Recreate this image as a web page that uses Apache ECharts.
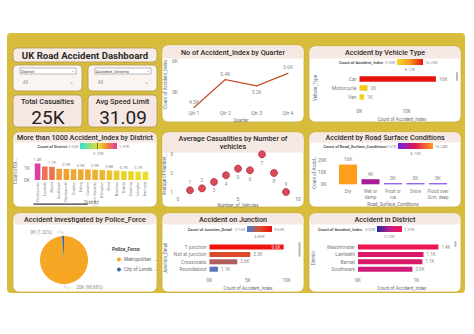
<!DOCTYPE html>
<html>
<head>
<meta charset="utf-8">
<script src="https://cdn.jsdelivr.net/npm/echarts@6/dist/echarts.min.js"></script>
<style>
  html, body { margin: 0; padding: 0; background: #ffffff; }
  #main { width: 474px; height: 334px; }
</style>
</head>
<body>
<div id="main"></div>
<script>
// ---- data ----
const totalCasualties = 25000;
const avgSpeedLimit = 31.09;

const quarters = ['Qtr 1', 'Qtr 2', 'Qtr 3', 'Qtr 4'];
const accidentsByQuarter = [4500, 5400, 5200, 5600];
const quarterTicks = [5000, 6000];

const vehicleTypes = ['Car', 'Motorcycle', 'Van'];
const accidentsByVehicle = [16250, 1700, 950];
const vehicleScale = [0, 16250];

const districts = ['Westminster', 'Lambeth', 'Barnet', 'Southwark', 'Wandsworth', 'Croydon', 'Ealing', 'Camden',
  'Tower Hamlets', 'Hillingdon', 'Brent', 'Newham', 'Enfield', 'Hackney', 'Islington', 'Haringey'];
const accidentsByDistrict = [1374, 1120, 1100, 930, 920, 900, 890, 880, 860, 840, 800, 780, 740, 730, 700, 690];
const districtScale = [20, 1374];

const vehicleCounts = [1, 2, 3, 4, 5, 6, 7, 8, 9];
const avgCasualties = [1.09, 1.19, 1.53, 1.88, 2.23, 2.14, 2.98, 2.0, 1.0];

const surfaceConditions = ['Dry', 'Wet or damp', 'Frost or ice', 'Snow', 'Flood over 3cm. deep'];
const accidentsBySurface = [16240, 4200, 150, 60, 10];
const surfaceScale = [10, 16240];

const policeForces = ['Metropolitan Police', 'City of London'];
const accidentsByForce = [20430, 273];

const junctionDetails = ['T junction', 'Not at junction', 'Crossroads', 'Roundabout'];
const accidentsByJunction = [9630, 5300, 3600, 1100];
const junctionScale = [150, 9630];

const topDistricts = ['Westminster', 'Lambeth', 'Barnet', 'Southwark'];
const accidentsInTopDistricts = [1374, 1120, 1100, 930];
const topDistrictScale = [20, 1374];

// ---- styling helpers ----
const F = 'Roboto, "Noto Sans", sans-serif';
const GRAY = '#8c8c8c';
const DARK = '#2b2b2b';

function hexToRgb(h) { h = h.replace('#', ''); return [0, 2, 4].map(i => parseInt(h.substr(i, 2), 16)); }
function ramp(stops, t) {
  t = Math.max(0, Math.min(1, t));
  for (let i = 1; i < stops.length; i++) {
    if (t <= stops[i][0]) {
      const a = stops[i - 1], b = stops[i];
      const k = (t - a[0]) / (b[0] - a[0] || 1);
      const ca = hexToRgb(a[1]), cb = hexToRgb(b[1]);
      const c = ca.map((v, j) => Math.round(v + (cb[j] - v) * k));
      return 'rgb(' + c.join(',') + ')';
    }
  }
  return stops[stops.length - 1][1];
}
function colorFor(stops, scale, v) { return ramp(stops, (v - scale[0]) / (scale[1] - scale[0])); }

const vehicleStops = [[0, '#F2D71C'], [0.5, '#F39A1E'], [1, '#E8120D']];
const districtStops = [[0, '#2FE0DA'], [0.5, '#E9E02A'], [0.75, '#F2803C'], [1, '#DE3E9E']];
const surfaceStops = [[0, '#6A22E8'], [0.5, '#E3174E'], [1, '#FF9E1B']];
const junctionStops = [[0, '#3A7DD6'], [0.5, '#D9502E'], [1, '#F0120C']];
const topDistrictStops = [[0, '#1D2A9B'], [0.5, '#C21E8C'], [1, '#EC1652']];

const kFmt = v => (v % 1000 === 0 ? (v / 1000) + 'K' : '');
const kRound = v => Math.round(v / 1000) + 'K';
const k1 = v => (v / 1000).toFixed(1) + 'K';
const k2 = v => (v / 1000).toFixed(2) + 'K';

function wrap(s, n) {
  const words = s.split(' '); const lines = []; let cur = '';
  words.forEach(w => {
    if (cur && (cur + ' ' + w).length > n) { lines.push(cur); cur = w; }
    else cur = cur ? cur + ' ' + w : w;
  });
  if (cur) lines.push(cur);
  return lines.join('\n');
}

const tickLabel = (extra) => Object.assign({ fontSize: 5, color: '#7d7d7d', fontFamily: F,
  hideOverlap: false, showMinLabel: true, showMaxLabel: true }, extra || {});
const axisName = { fontSize: 4.5, color: '#6b6b6b', fontFamily: F };
const noLines = { axisLine: { show: false }, axisTick: { show: false }, splitLine: { show: false }, nameMoveOverlap: false };

// ---- panels and static texts ----
const graphics = [];
graphics.push({ type: 'rect', z: -10, shape: { x: 7, y: 33, width: 458, height: 260, r: 4 }, style: { fill: '#D8BC3C' } });

function panel(x, y, w, h, band, title) {
  graphics.push({ type: 'rect', z: -5, shape: { x, y, width: w, height: h, r: 6 }, style: { fill: '#ffffff', stroke: '#C9AE4A', lineWidth: 0.8 } });
  graphics.push({ type: 'rect', z: -4, shape: { x: x + 0.5, y: y + 0.5, width: w - 1, height: band, r: [6, 6, 0, 0] }, style: { fill: '#F6E8E2' } });
  graphics.push({ type: 'text', z: 5, style: { text: title, x: x + w / 2, y: y + band / 2 + 0.5, align: 'center', verticalAlign: 'middle', fontSize: 7.2, fontWeight: 500, fill: DARK, fontFamily: F, lineHeight: 8 } });
}
function text(t, x, y, o) {
  graphics.push({ type: 'text', z: 5, style: Object.assign({ text: t, x, y, align: 'center', verticalAlign: 'middle', fontSize: 5, fill: GRAY, fontFamily: F }, o || {}) });
}
function gradLegend(name, nameRight, y, rectX, rectW, stops, scale) {
  text(name, nameRight, y, { align: 'right', fontSize: 4, fontWeight: 'bold', fill: '#555' });
  text(k2(scale[0]), rectX - 1.5, y, { align: 'right', fontSize: 4 });
  graphics.push({ type: 'rect', z: 4, shape: { x: rectX, y: y - 3, width: rectW, height: 6 },
    style: { fill: new echarts.graphic.LinearGradient(0, 0, 1, 0, stops.map(s => ({ offset: s[0], color: s[1] }))) } });
  text(k2(scale[1]), rectX + rectW + 2, y, { align: 'left', fontSize: 4 });
  text(k2((scale[0] + scale[1]) / 2), rectX + rectW / 2, y + 7, { fontSize: 4 });
}

// header block
function box(x, y, w, h, fill) {
  graphics.push({ type: 'rect', z: -5, shape: { x, y, width: w, height: h, r: 4 }, style: { fill, stroke: '#B09650', lineWidth: 0.8 } });
}
box(13, 48, 144, 14, '#F7EBE6');
text('UK Road Accident Dashboard', 85, 55.5, { fontSize: 9.6, fontWeight: 'bold', fill: DARK });

function slicer(x, label) {
  box(x, 65, 69, 26, '#FBF5F2');
  graphics.push({ type: 'rect', z: 4, shape: { x: x + 7, y: 68, width: 56, height: 6 }, style: { fill: '#ffffff', stroke: '#7a7a7a', lineWidth: 0.5 } });
  text(label, x + 8, 71, { align: 'left', fontSize: 4.2, fill: '#444' });
  text('⌄', x + 60, 70, { fontSize: 5, fill: '#888' });
  text('All', x + 10, 82, { align: 'left', fontSize: 4.5, fill: '#888' });
  text('⌄', x + 58, 81, { fontSize: 6, fill: '#999' });
}
slicer(13, 'District');
slicer(88, 'Accident_Severity');

box(13, 95, 69, 32, '#F7E7E2');
box(88, 95, 69, 32, '#F7E7E2');
text('Total Casualties', 47.5, 101.5, { fontSize: 7.4, fontWeight: 500, fill: DARK });
text(Math.round(totalCasualties / 1000) + 'K', 48, 117.5, { fontSize: 19, fill: '#222' });
text('Avg Speed Limit', 122.5, 101.5, { fontSize: 7.4, fontWeight: 500, fill: DARK });
text(avgSpeedLimit.toFixed(2), 123, 117.5, { fontSize: 19, fill: '#222' });

// chart panels
panel(162, 45, 142, 77, 13, 'No of Accident_Index by Quarter');
panel(309, 46, 152, 76, 12, 'Accident by Vehicle Type');
panel(13, 132, 144, 75, 10, 'More than 1000 Accident_Index by District');
panel(162, 132, 142, 75, 20, 'Average Casualities by Number of\nvehicles');
panel(309, 132, 152, 75, 10, 'Accident by Road Surface Conditions');
panel(13, 213, 144, 79, 11, 'Accident investigated by Police_Force');
panel(162, 213, 142, 79, 11, 'Accident on Junction');
panel(309, 213, 152, 79, 11, 'Accident in District');

gradLegend('Count of Accident_Index', 383, 62, 397, 26, vehicleStops, vehicleScale);
gradLegend('Count of District', 67, 146, 80, 37, districtStops, districtScale);
graphics.push({ type: 'rect', z: 5, shape: { x: 97, y: 142.5, width: 0.6, height: 7 }, style: { fill: '#333' } });
gradLegend('Count of Road_Surface_Conditions', 386, 146, 398, 35, surfaceStops, surfaceScale);
gradLegend('Count of Junction_Detail', 232, 229, 247, 25, junctionStops, junctionScale);
gradLegend('Count of Accident_Index', 362, 229, 377, 25, topDistrictStops, topDistrictScale);

// scroll bars
graphics.push({ type: 'rect', z: 5, shape: { x: 456, y: 72, width: 2, height: 9, r: 1 }, style: { fill: '#b8b8b8' } });
graphics.push({ type: 'rect', z: 5, shape: { x: 33, y: 203.3, width: 55, height: 1.6, r: 0.8 }, style: { fill: '#707070' } });
graphics.push({ type: 'rect', z: 5, shape: { x: 298.5, y: 242, width: 2, height: 15, r: 1 }, style: { fill: '#b8b8b8' } });
graphics.push({ type: 'rect', z: 5, shape: { x: 454.5, y: 241, width: 2, height: 6, r: 1 }, style: { fill: '#b8b8b8' } });

// pie legend title
text('Police_Force', 112, 249, { align: 'left', fontSize: 4.8, fontWeight: 'bold', fill: '#444' });

// ---- chart ----
const chart = echarts.init(document.getElementById('main'), null, { renderer: 'svg' });

const quarterLabelPos = ['top', 'top', 'bottom', 'top'];
const scatterLabelPos = ['top', 'top', 'bottom', 'bottom', 'bottom', 'bottom', 'bottom', 'bottom', 'top'];

function grid(l, t, w, h) { return { left: l, top: t, width: w, height: h, containLabel: false, outerBoundsMode: 'none' }; }

const option = {
  animation: false,
  textStyle: { fontFamily: F },
  graphic: { elements: graphics },
  grid: [
    grid(194, 61, 94, 46.5),          // 0 quarter
    grid(359.5, 74.5, 84.6, 27),      // 1 vehicle
    grid(34, 162, 115, 18),           // 2 district
    grid(178, 154, 120, 38),          // 3 scatter
    grid(336.75, 160, 112.5, 24.3),   // 4 surface
    grid(209.5, 243.3, 77, 29.6),     // 5 junction
    grid(358, 243.3, 87.75, 29.6)     // 6 top districts
  ],
  xAxis: [
    Object.assign({ gridIndex: 0, type: 'category', boundaryGap: false, data: quarters,
      axisLabel: tickLabel({ margin: 3 }), name: 'Quarter', nameLocation: 'middle', nameGap: 10, nameTextStyle: axisName }, noLines),
    Object.assign({ gridIndex: 1, type: 'value', min: 0, max: 18000, interval: 10000,
      axisLabel: tickLabel({ margin: 7, formatter: v => (v % 10000 === 0 ? kFmt(v) : '') }),
      name: 'Count of Accident_Index', nameLocation: 'middle', nameGap: 15.5, nameTextStyle: axisName }, noLines),
    Object.assign({ gridIndex: 2, type: 'category', data: districts,
      axisLabel: tickLabel({ rotate: 90, fontSize: 3.6, margin: 2, interval: 0 }),
      name: 'District', nameLocation: 'middle', nameGap: 20, nameTextStyle: axisName }, noLines),
    Object.assign({ gridIndex: 3, type: 'value', min: 0, max: 10, interval: 5,
      axisLabel: tickLabel({ margin: 4 }), name: 'Number_of_Vehicles', nameLocation: 'middle', nameGap: 11, nameTextStyle: axisName }, noLines),
    Object.assign({ gridIndex: 4, type: 'category', data: surfaceConditions,
      axisLabel: tickLabel({ fontSize: 4.5, lineHeight: 5.2, margin: 5, interval: 0, formatter: v => wrap(v, 10) }),
      name: 'Road_Surface_Conditions', nameLocation: 'middle', nameGap: 18, nameTextStyle: axisName }, noLines),
    Object.assign({ gridIndex: 5, type: 'value', min: 0, max: 10000, interval: 5000,
      axisLabel: tickLabel({ margin: 5, formatter: v => (v / 1000) + 'K' }),
      name: 'Count of Accident_Index', nameLocation: 'middle', nameGap: 13, nameTextStyle: axisName }, noLines),
    Object.assign({ gridIndex: 6, type: 'value', min: 0, max: 1500, interval: 1000,
      axisLabel: tickLabel({ margin: 5, formatter: kFmt }),
      name: 'Count of Accident_Index', nameLocation: 'middle', nameGap: 13, nameTextStyle: axisName }, noLines)
  ],
  yAxis: [
    Object.assign({ gridIndex: 0, type: 'value', min: 4500, max: 6000, interval: 500,
      axisLabel: tickLabel({ margin: 16, formatter: v => (quarterTicks.includes(v) ? (v / 1000) + 'K' : '') }),
      name: 'Count of Accident_Index', nameLocation: 'middle', nameRotate: 90, nameGap: 26, nameTextStyle: axisName }, noLines),
    Object.assign({ gridIndex: 1, type: 'category', inverse: true, data: vehicleTypes,
      axisLabel: tickLabel({ margin: 3 }),
      name: 'Vehicle_Type', nameLocation: 'middle', nameRotate: 90, nameGap: 42, nameTextStyle: axisName }, noLines),
    Object.assign({ gridIndex: 2, type: 'value', min: 0, max: 1500, interval: 1000,
      axisLabel: tickLabel({ margin: 4, formatter: kFmt }),
      name: 'Count of Di...', nameLocation: 'middle', nameRotate: 90, nameGap: 16, nameTextStyle: axisName }, noLines),
    Object.assign({ gridIndex: 3, type: 'value', min: 1, max: 3, interval: 1,
      axisLabel: tickLabel({ margin: 5 }),
      name: 'Average of Number_...', nameLocation: 'middle', nameRotate: 90, nameGap: 11, nameTextStyle: axisName }, noLines),
    Object.assign({ gridIndex: 4, type: 'value', min: 0, max: 20000, interval: 10000,
      axisLabel: tickLabel({ margin: 10, formatter: kFmt }),
      name: 'Count of Accid...', nameLocation: 'middle', nameRotate: 90, nameGap: 20, nameTextStyle: axisName }, noLines),
    Object.assign({ gridIndex: 5, type: 'category', inverse: true, data: junctionDetails,
      axisLabel: tickLabel({ margin: 3 }),
      name: 'Junction_Detail', nameLocation: 'middle', nameRotate: 90, nameGap: 42, nameTextStyle: axisName }, noLines),
    Object.assign({ gridIndex: 6, type: 'category', inverse: true, data: topDistricts,
      axisLabel: tickLabel({ margin: 3 }),
      name: 'District', nameLocation: 'middle', nameRotate: 90, nameGap: 42, nameTextStyle: axisName }, noLines)
  ],
  legend: {
    data: policeForces, orient: 'vertical', left: 112, top: 252, itemWidth: 4, itemHeight: 4, itemGap: 5,
    icon: 'circle', textStyle: { fontSize: 4.8, color: '#666', fontFamily: F, padding: [0, 0, 0, -2] },
    formatter: n => (n.length > 13 ? n.slice(0, 13) + ' ...' : n)
  },
  series: [
    {
      type: 'line', xAxisIndex: 0, yAxisIndex: 0, symbol: 'circle', symbolSize: 1, showSymbol: true,
      itemStyle: { color: '#C4532F' },
      lineStyle: { color: '#C4532F', width: 1.3 },
      data: accidentsByQuarter.map((v, i) => ({ value: v, label: { position: quarterLabelPos[i] } })),
      label: { show: true, formatter: p => k1(p.value), fontSize: 5, color: GRAY, distance: 3 }
    },
    {
      type: 'bar', xAxisIndex: 1, yAxisIndex: 1, barWidth: 5.5,
      data: accidentsByVehicle.map(v => ({ value: v, itemStyle: { color: colorFor(vehicleStops, vehicleScale, v) } })),
      label: { show: true, position: 'right', formatter: p => kRound(p.value), fontSize: 5, color: GRAY, distance: 3 }
    },
    {
      type: 'bar', xAxisIndex: 2, yAxisIndex: 2, barWidth: 5.6,
      data: accidentsByDistrict.map(v => ({ value: v, itemStyle: { color: colorFor(districtStops, districtScale, v) } })),
      label: { show: true, position: 'top', formatter: p => (p.dataIndex % 2 === 0 ? k1(p.value) : ''), fontSize: 4, color: GRAY, distance: 2 }
    },
    {
      type: 'scatter', xAxisIndex: 3, yAxisIndex: 3, symbolSize: 7,
      itemStyle: { color: '#D84A5B', borderColor: '#B53444', borderWidth: 0.8, opacity: 1 },
      data: vehicleCounts.map((x, i) => ({ value: [x, avgCasualties[i]], label: { position: scatterLabelPos[i] } })),
      label: { show: true, formatter: p => p.value[0], fontSize: 5, color: GRAY, distance: 2 }
    },
    {
      type: 'bar', xAxisIndex: 4, yAxisIndex: 4, barWidth: 18, barMinHeight: 1,
      data: accidentsBySurface.map(v => ({ value: v, itemStyle: { color: colorFor(surfaceStops, surfaceScale, v) } })),
      label: { show: true, position: 'top', formatter: p => kRound(p.value), fontSize: 5, color: GRAY, distance: 3 }
    },
    {
      type: 'pie', center: [64, 260], radius: 24, startAngle: 90, clockwise: true,
      data: policeForces.map((n, i) => ({ name: n, value: accidentsByForce[i] })),
      color: ['#F5A623', '#2F6CAE'],
      label: { show: true, formatter: p => kRound(p.value) + ' (' + p.percent.toFixed(2) + '%)', fontSize: 4.5, color: GRAY },
      labelLine: { length: 4, length2: 6, lineStyle: { color: '#aaa', width: 0.5 } }
    },
    {
      type: 'bar', xAxisIndex: 5, yAxisIndex: 5, barWidth: 5,
      data: accidentsByJunction.map(v => ({ value: v, itemStyle: { color: colorFor(junctionStops, junctionScale, v) },
        label: { position: v > 0.85 * junctionScale[1] ? 'insideRight' : 'right', color: v > 0.85 * junctionScale[1] ? '#fde' : GRAY } })),
      label: { show: true, formatter: p => k1(p.value), fontSize: 4.5, distance: 3 }
    },
    {
      type: 'bar', xAxisIndex: 6, yAxisIndex: 6, barWidth: 5,
      data: accidentsInTopDistricts.map(v => ({ value: v, itemStyle: { color: colorFor(topDistrictStops, topDistrictScale, v) } })),
      label: { show: true, position: 'right', formatter: p => k1(p.value), fontSize: 4.5, color: GRAY, distance: 3 }
    }
  ]
};
chart.setOption(option);
</script>
</body>
</html>
